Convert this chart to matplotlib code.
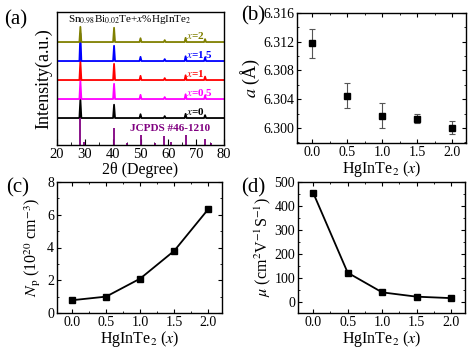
import matplotlib
matplotlib.use("Agg")
import matplotlib.pyplot as plt
from matplotlib.ticker import MultipleLocator

plt.rcParams['font.family'] = ['Liberation Serif', 'DejaVu Serif']
plt.rcParams['mathtext.fontset'] = 'stix'
plt.rcParams['xtick.direction'] = 'in'
plt.rcParams['ytick.direction'] = 'in'

# XRD (a)
samples = ["x=0", "x=0.5", "x=1", "x=1.5", "x=2"]
sample_colors = ["black", "#ff00ff", "#ff0000", "#0000ff", "#808000"]
offsets = [0, 1, 2, 3, 4]
peak_pos = [28.4, 40.5, 50.0, 58.7, 66.2, 73.2]
peak_heights = [
    [1.0, 0.70, 0.20, 0.10, 0.22, 0.15],
    [1.0, 0.80, 0.22, 0.10, 0.25, 0.18],
    [1.0, 0.85, 0.22, 0.10, 0.25, 0.18],
    [1.45, 0.80, 0.22, 0.10, 0.25, 0.18],
    [0.80, 0.75, 0.20, 0.10, 0.22, 0.15],
]
stick_pos = [28.3, 40.4, 50.0, 58.6, 66.3, 73.3, 29.8, 45.0, 55.2, 60.8, 75.2]
stick_tops = [0.0, -0.53, -0.9, -0.95, -0.9, -1.1, -1.27, -1.3, -1.3, -1.25, -1.3]

# (b) lattice parameter
x_vals = [0.0, 0.5, 1.0, 1.5, 2.0]
a_vals = [6.3118, 6.3045, 6.3017, 6.3013, 6.3000]
a_err = [0.0020, 0.0017, 0.0017, 0.0006, 0.0009]
# (c) carrier concentration
np_vals = [0.78, 1.0, 2.1, 3.8, 6.35]
# (d) mobility
mu_vals = [455, 122, 40, 22, 16]

W, H = 474, 351
fig = plt.figure(figsize=(W / 100, H / 100), dpi=100)


def box(l, t, r, b):
    return [l / W, (H - b) / H, (r - l) / W, (b - t) / H]


ax_a = fig.add_axes(box(57, 12, 224, 145))
ax_b = fig.add_axes(box(297, 13, 466, 143))
ax_c = fig.add_axes(box(57, 182, 222, 313))
ax_d = fig.add_axes(box(298, 182, 465, 313))

# ---- panel a
ybot = -1.42
hw = 0.35
for name, col, off, hts in zip(samples, sample_colors, offsets, peak_heights):
    xs = [20]
    ys = [off]
    for p, h in zip(peak_pos, hts):
        xs += [p - hw, p, p + hw]
        ys += [off, off + h, off]
    xs.append(80)
    ys.append(off)
    ax_a.plot(xs, ys, color=col, lw=1.3)
    ax_a.text(66.5, off + 0.08, "$x$" + name[1:], color=col, fontsize=8,
              fontweight='bold', ha='left', va='bottom')
ax_a.vlines(stick_pos, ybot, stick_tops, color="#800080", lw=1.3)
ax_a.text(60.5, -0.53, "JCPDS #46-1210", color="#800080", fontsize=8,
          fontweight='bold', ha='center', va='center')
ax_a.text(46, 5.2, "Sn$_{0.98}$Bi$_{0.02}$Te+$x$%HgInTe$_2$", fontsize=8,
          ha='center', va='center')
ax_a.set_xlim(20, 80)
ax_a.set_ylim(ybot, 5.58)
ax_a.set_yticks([])
ax_a.xaxis.set_major_locator(MultipleLocator(10))
ax_a.xaxis.set_minor_locator(MultipleLocator(5))
ax_a.tick_params(axis='x', which='major', length=4, labelsize=10.5, pad=2)
ax_a.tick_params(axis='x', which='minor', length=2)
ax_a.set_xlabel("2θ (Degree)", fontsize=11.5, labelpad=1)
ax_a.set_ylabel("Intensity(a.u.)", fontsize=13, labelpad=3)

# ---- panels b, c, d
for ax in (ax_b, ax_c, ax_d):
    ax.set_xlim(-0.22, 2.2)
    ax.xaxis.set_major_locator(MultipleLocator(0.5))
    ax.xaxis.set_minor_locator(MultipleLocator(0.25))
    ax.set_xticks([0, 0.5, 1.0, 1.5, 2.0], ["0.0", "0.5", "1.0", "1.5", "2.0"])
    ax.tick_params(which='both', top=True, right=True, labelsize=10, pad=2)
    ax.tick_params(which='major', length=3)
    ax.tick_params(which='minor', length=1.5)
    ax.set_xlabel("HgInTe$_2$ ($x$)", fontsize=11.5, labelpad=0)

ax_b.errorbar(x_vals, a_vals, yerr=a_err, fmt='s', color='black', ms=5,
              ecolor='#555555', elinewidth=0.8, capsize=2, capthick=0.8)
ax_b.set_ylim(6.2979, 6.316)
ax_b.set_yticks([6.300, 6.304, 6.308, 6.312, 6.316])
ax_b.yaxis.set_minor_locator(MultipleLocator(0.002))
ax_b.set_ylabel("$a$ (Å)", fontsize=13, labelpad=1)

ax_c.plot(x_vals, np_vals, '-s', color='black', ms=5, lw=1.3)
ax_c.set_ylim(0, 8)
ax_c.yaxis.set_major_locator(MultipleLocator(2))
ax_c.yaxis.set_minor_locator(MultipleLocator(1))
ax_c.set_ylabel("$N_{\\rm p}$ (10$^{20}$ cm$^{-3}$)", fontsize=11.5, labelpad=3)

ax_d.plot(x_vals, mu_vals, '-s', color='black', ms=5, lw=1.3)
ax_d.set_ylim(-46, 500)
ax_d.yaxis.set_major_locator(MultipleLocator(100))
ax_d.yaxis.set_minor_locator(MultipleLocator(50))
ax_d.set_ylabel("$\\mu$ (cm$^2$V$^{-1}$S$^{-1}$)", fontsize=11.5, labelpad=1)

for ax in (ax_a, ax_b, ax_c, ax_d):
    for s in ax.spines.values():
        s.set_linewidth(1.0)

fig.text(4 / W, 1 - 20 / H, "(a)", fontsize=15, va='center', ha='left')
fig.text(241 / W, 1 - 16 / H, "(b)", fontsize=15, va='center', ha='left')
fig.text(6 / W, 1 - 188 / H, "(c)", fontsize=15, va='center', ha='left')
fig.text(241 / W, 1 - 188 / H, "(d)", fontsize=15, va='center', ha='left')

fig.savefig("out.png", dpi=100)
